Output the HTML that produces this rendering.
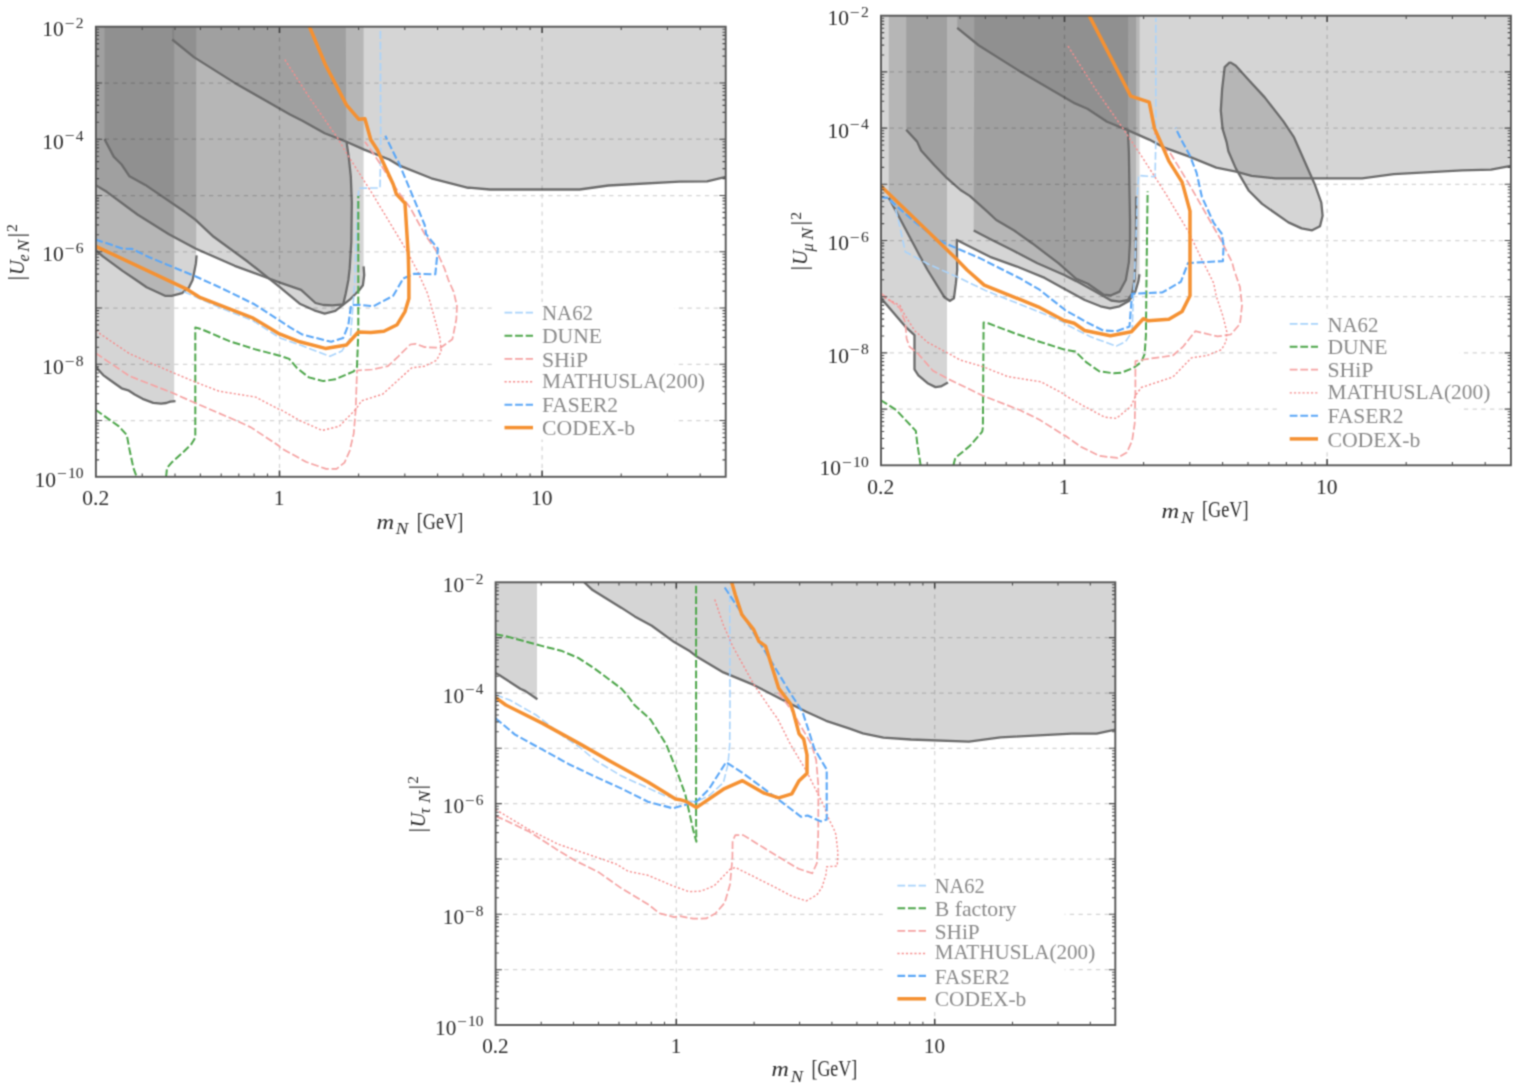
<!DOCTYPE html>
<html lang="en">
<head>
<meta charset="utf-8">
<title>HNL sensitivity</title>
<style>
html,body{margin:0;padding:0;background:#fff;}
body{width:1520px;height:1088px;overflow:hidden;}
svg{display:block;}
text{font-family:"Liberation Serif","DejaVu Serif",serif;fill:#2b2b2b;}
.it{font-style:italic;}
.lg{fill:#8a8a8a;}
</style>
</head>
<body>
<svg width="1520" height="1088" viewBox="0 0 1520 1088">
<defs><filter id="soft" x="0" y="0" width="1520" height="1088" filterUnits="userSpaceOnUse" color-interpolation-filters="sRGB"><feConvolveMatrix order="3" kernelMatrix="0.0441 0.1218 0.0441 0.1218 0.3364 0.1218 0.0441 0.1218 0.0441" edgeMode="duplicate" preserveAlpha="true"/></filter></defs>
<g filter="url(#soft)">
<rect x="0" y="0" width="1520" height="1088" fill="#ffffff"/>
<clipPath id="clip1"><rect x="95.9" y="26.7" width="629.8" height="450.1"/></clipPath>
<rect x="95.9" y="26.7" width="629.8" height="450.1" fill="#fff"/>
<g clip-path="url(#clip1)">
<path d="M96.0,26.7 L95.5,365.3 L97.9,369.2 L103.2,375.1 L112.4,381.7 L121.6,388.3 L128.2,390.3 L134.7,394.5 L142.6,398.8 L153.2,402.8 L161.1,403.7 L166.3,403.0 L170.3,401.6 L174.2,401.1 L174.2,26.7Z" fill="rgba(105,105,105,0.28)" stroke="none"/>
<path d="M96.0,26.7 L95.3,250.0 L103.2,256.6 L122.9,271.1 L136.1,280.0 L146.6,287.2 L165.0,295.8 L171.6,295.9 L182.1,293.2 L188.7,287.9 L192.6,280.0 L193.9,273.7 L195.9,263.2 L196.6,255.3 L196.2,255.3 L196.2,26.7Z" fill="rgba(105,105,105,0.28)" stroke="none"/>
<path d="M96.0,26.7 L95.3,184.9 L107.1,192.1 L137.4,214.5 L168.9,234.2 L195.9,248.7 L234.7,265.8 L265.0,277.0 L280.0,282.6 L301.1,289.9 L315.5,303.0 L323.4,305.0 L332.6,305.3 L343.2,304.3 L345.8,293.2 L348.4,280.0 L349.7,268.4 L351.3,242.1 L351.8,202.6 L350.8,176.3 L348.7,156.6 L346.4,141.1 L345.8,26.7Z" fill="rgba(105,105,105,0.28)" stroke="none"/>
<path d="M104.5,26.7 L104.5,139.1 L111.1,151.6 L113.7,156.6 L121.6,164.5 L129.5,176.3 L145.3,184.9 L184.7,211.8 L195.3,219.7 L213.7,236.8 L247.9,261.8 L279.5,286.8 L299.7,303.7 L314.2,310.3 L324.7,313.6 L335.3,310.9 L349.7,299.7 L358.9,290.5 L362.9,285.3 L364.2,275.0 L363.6,266.4 L363.6,26.7Z" fill="rgba(105,105,105,0.28)" stroke="none"/>
<path d="M172.2,26.7 L172.2,39.5 L193.9,57.1 L234.7,82.9 L290.0,114.5 L302.4,120.7 L324.7,133.2 L346.4,141.7 L364.2,149.6 L389.2,159.5 L398.4,165.1 L431.3,178.3 L468.2,187.9 L468.9,187.6 L490.0,189.5 L579.5,189.5 L608.4,185.5 L679.5,181.6 L707.1,181.3 L725.8,176.8 L725.7,26.7Z" fill="rgba(105,105,105,0.28)" stroke="none"/>
<path d="M95.5,365.3 L97.9,369.2 L103.2,375.1 L112.4,381.7 L121.6,388.3 L128.2,390.3 L134.7,394.5 L142.6,398.8 L153.2,402.8 L161.1,403.7 L166.3,403.0 L170.3,401.6 L175.5,401.1" fill="none" stroke="#6b6b6b" stroke-width="2.3" stroke-linejoin="round" stroke-linecap="butt"/>
<path d="M95.3,250.0 L103.2,256.6 L122.9,271.1 L136.1,280.0 L146.6,287.2 L165.0,295.8 L171.6,295.9 L182.1,293.2 L188.7,287.9 L192.6,280.0 L193.9,273.7 L195.9,263.2 L196.6,255.3" fill="none" stroke="#6b6b6b" stroke-width="2.3" stroke-linejoin="round" stroke-linecap="butt"/>
<path d="M95.3,184.9 L107.1,192.1 L137.4,214.5 L168.9,234.2 L195.9,248.7 L234.7,265.8 L265.0,277.0 L280.0,282.6 L301.1,289.9 L315.5,303.0 L323.4,305.0 L332.6,305.3 L343.2,304.3 L345.8,293.2 L348.4,280.0 L349.7,268.4 L351.3,242.1 L351.8,202.6 L350.8,176.3 L348.7,156.6 L346.4,141.1" fill="none" stroke="#6b6b6b" stroke-width="2.3" stroke-linejoin="round" stroke-linecap="butt"/>
<path d="M104.5,139.1 L111.1,151.6 L113.7,156.6 L121.6,164.5 L129.5,176.3 L145.3,184.9 L184.7,211.8 L195.3,219.7 L213.7,236.8 L247.9,261.8 L279.5,286.8 L299.7,303.7 L314.2,310.3 L324.7,313.6 L335.3,310.9 L349.7,299.7 L358.9,290.5 L362.9,285.3 L364.2,275.0 L363.6,266.4" fill="none" stroke="#6b6b6b" stroke-width="2.3" stroke-linejoin="round" stroke-linecap="butt"/>
<path d="M172.2,39.5 L193.9,57.1 L234.7,82.9 L290.0,114.5 L302.4,120.7 L324.7,133.2 L346.4,141.7 L364.2,149.6 L389.2,159.5 L398.4,165.1 L431.3,178.3 L468.2,187.9 L468.9,187.6 L490.0,189.5 L579.5,189.5 L608.4,185.5 L679.5,181.6 L707.1,181.3 L725.8,176.8" fill="none" stroke="#6b6b6b" stroke-width="2.3" stroke-linejoin="round" stroke-linecap="butt"/>
<path d="M95.9,420.5 H725.7 M95.9,364.3 H725.7 M95.9,308.0 H725.7 M95.9,251.8 H725.7 M95.9,195.5 H725.7 M95.9,139.2 H725.7 M95.9,83.0 H725.7 M279.5,476.8 V26.7 M542.1,476.8 V26.7" fill="none" stroke="#000" stroke-opacity="0.17" stroke-width="1.25" stroke-dasharray="4.3,4.4"/>
<path d="M174.2,287.9 L187.4,293.2 L221.6,308.3 L253.2,320.8 L280.0,337.9 L302.4,345.8 L330.0,356.3 L341.8,351.1 L350.4,337.9 L352.4,312.9 L355.0,280.0 L357.6,202.6 L358.9,188.2 L380.0,187.9 L380.7,150.0 L380.4,27.9" fill="none" stroke="#a9d3fb" stroke-width="1.6" stroke-linejoin="round" stroke-linecap="butt" stroke-dasharray="7.8,2.8"/>
<path d="M95.5,409.7 L109.7,419.9 L118.9,426.4 L126.8,435.0 L129.5,449.5 L133.4,467.9 L136.7,477.1" fill="none" stroke="#4ea64b" stroke-width="2.0" stroke-linejoin="round" stroke-linecap="butt" stroke-dasharray="7.8,2.8"/>
<path d="M166.1,477.1 L167.0,467.9 L171.6,462.6 L184.7,450.8 L191.3,444.2 L195.3,437.6 L195.3,327.4 L201.8,329.3 L229.5,341.2 L254.5,349.1 L279.5,355.7 L280.0,355.7 L289.2,358.9 L297.1,368.2 L308.9,377.4 L323.4,381.1 L335.3,379.3 L353.7,371.4 L357.0,366.8 L358.3,332.6 L358.3,196.1" fill="none" stroke="#4ea64b" stroke-width="2.0" stroke-linejoin="round" stroke-linecap="butt" stroke-dasharray="7.8,2.8"/>
<path d="M95.5,353.0 L129.5,376.1 L171.6,392.5 L195.3,403.0 L234.7,420.0 L250.5,427.1 L279.5,446.2 L280.0,447.5 L306.3,462.0 L326.1,468.9 L336.6,468.9 L344.5,462.6 L349.7,450.8 L353.7,433.7 L355.7,410.0 L357.0,370.5 L372.1,369.5 L387.9,366.2 L398.4,356.3 L410.3,344.5 L415.5,343.8 L424.7,347.1 L440.5,347.8 L452.4,339.2 L456.3,319.5 L457.0,306.3 L453.7,291.8 L448.4,280.0 L444.5,268.4 L436.6,251.3 L424.7,234.2 L410.3,207.9 L398.4,192.1 L374.7,155.5 L364.9,141.7" fill="none" stroke="#f5a3a3" stroke-width="1.7" stroke-linejoin="round" stroke-linecap="butt" stroke-dasharray="7.8,2.8"/>
<path d="M95.5,330.7 L129.5,353.7 L171.6,372.1 L195.3,382.0 L218.9,391.2 L255.8,397.1 L279.5,409.6 L280.0,409.3 L299.7,420.5 L322.1,430.4 L339.2,426.4 L356.3,408.7 L361.6,400.8 L382.6,394.2 L411.6,367.9 L424.7,366.2 L436.6,360.3 L441.2,351.1 L439.9,337.9 L431.3,306.3 L427.4,293.2 L421.4,280.0 L418.2,272.4 L406.3,250.0 L372.1,193.4 L344.5,150.0 L337.9,138.4 L310.3,98.9 L283.9,58.2" fill="none" stroke="#f58e8e" stroke-width="1.4" stroke-linejoin="round" stroke-linecap="butt" stroke-dasharray="2.2,2.05"/>
<path d="M95.3,239.5 L122.9,248.7 L132.1,248.9 L149.2,257.2 L195.3,276.3 L221.6,288.2 L254.5,304.3 L290.0,327.4 L302.4,334.6 L331.3,341.8 L343.2,337.9 L348.4,324.7 L351.1,305.0 L358.9,304.7 L373.4,306.3 L393.2,295.8 L402.4,280.0 L402.4,278.9 L414.2,273.7 L435.3,274.3 L437.9,248.7 L426.1,234.2 L424.7,225.0 L411.6,193.4 L398.4,161.8 L397.1,160.0 L385.3,135.8" fill="none" stroke="#5ba7f7" stroke-width="2.1" stroke-linejoin="round" stroke-linecap="butt" stroke-dasharray="7.8,2.8"/>
<path d="M95.3,246.1 L186.1,288.8 L199.2,297.1 L253.2,318.2 L279.5,333.9 L299.7,341.8 L325.4,348.4 L346.4,345.1 L358.3,332.0 L370.8,332.4 L383.9,331.3 L397.1,324.7 L405.0,311.6 L408.9,298.4 L408.9,280.0 L408.3,255.3 L405.0,203.3 L396.4,194.1 L393.2,184.2 L377.4,150.0 L370.8,139.7 L364.9,118.7 L358.9,119.3 L346.4,104.9 L325.4,64.7 L308.3,23.9" fill="none" stroke="#f59132" stroke-width="3.5" stroke-linejoin="round" stroke-linecap="butt"/>
</g>
<rect x="493.5" y="302.0" width="181.0" height="137.5" fill="#fff"/>
<path d="M504.5,312.6 H533.0" stroke="#a9d3fb" stroke-width="1.6" fill="none" stroke-dasharray="7.8,2.8"/>
<text class="lg" font-size="21.8" x="542.0" y="320.2" textLength="51.0" lengthAdjust="spacingAndGlyphs">NA62</text>
<path d="M504.5,335.8 H533.0" stroke="#4ea64b" stroke-width="2.0" fill="none" stroke-dasharray="7.8,2.8"/>
<text class="lg" font-size="21.8" x="542.0" y="343.4" textLength="60.0" lengthAdjust="spacingAndGlyphs">DUNE</text>
<path d="M504.5,358.9 H533.0" stroke="#f5a3a3" stroke-width="1.7" fill="none" stroke-dasharray="7.8,2.8"/>
<text class="lg" font-size="21.8" x="542.0" y="366.5" textLength="46.0" lengthAdjust="spacingAndGlyphs">SHiP</text>
<path d="M504.5,381.8 H533.0" stroke="#f58e8e" stroke-width="1.4" fill="none" stroke-dasharray="2.2,2.05"/>
<text class="lg" font-size="21.8" x="542.0" y="387.7" textLength="163.0" lengthAdjust="spacingAndGlyphs">MATHUSLA(200)</text>
<path d="M504.5,404.7 H533.0" stroke="#5ba7f7" stroke-width="2.1" fill="none" stroke-dasharray="7.8,2.8"/>
<text class="lg" font-size="21.8" x="542.0" y="412.3" textLength="76.0" lengthAdjust="spacingAndGlyphs">FASER2</text>
<path d="M504.5,427.6 H533.0" stroke="#f59132" stroke-width="3.5" fill="none"/>
<text class="lg" font-size="21.8" x="542.0" y="435.2" textLength="93.0" lengthAdjust="spacingAndGlyphs">CODEX-b</text>
<path d="M95.9,459.9 h3.2 M725.7,459.9 h-3.2 M95.9,450.0 h3.2 M725.7,450.0 h-3.2 M95.9,442.9 h3.2 M725.7,442.9 h-3.2 M95.9,437.5 h3.2 M725.7,437.5 h-3.2 M95.9,433.0 h3.2 M725.7,433.0 h-3.2 M95.9,429.3 h3.2 M725.7,429.3 h-3.2 M95.9,426.0 h3.2 M725.7,426.0 h-3.2 M95.9,423.1 h3.2 M725.7,423.1 h-3.2 M95.9,420.5 h6.3 M725.7,420.5 h-6.3 M95.9,403.6 h3.2 M725.7,403.6 h-3.2 M95.9,393.7 h3.2 M725.7,393.7 h-3.2 M95.9,386.7 h3.2 M725.7,386.7 h-3.2 M95.9,381.2 h3.2 M725.7,381.2 h-3.2 M95.9,376.8 h3.2 M725.7,376.8 h-3.2 M95.9,373.0 h3.2 M725.7,373.0 h-3.2 M95.9,369.7 h3.2 M725.7,369.7 h-3.2 M95.9,366.8 h3.2 M725.7,366.8 h-3.2 M95.9,364.3 h6.3 M725.7,364.3 h-6.3 M95.9,347.3 h3.2 M725.7,347.3 h-3.2 M95.9,337.4 h3.2 M725.7,337.4 h-3.2 M95.9,330.4 h3.2 M725.7,330.4 h-3.2 M95.9,324.9 h3.2 M725.7,324.9 h-3.2 M95.9,320.5 h3.2 M725.7,320.5 h-3.2 M95.9,316.7 h3.2 M725.7,316.7 h-3.2 M95.9,313.5 h3.2 M725.7,313.5 h-3.2 M95.9,310.6 h3.2 M725.7,310.6 h-3.2 M95.9,308.0 h6.3 M725.7,308.0 h-6.3 M95.9,291.1 h3.2 M725.7,291.1 h-3.2 M95.9,281.2 h3.2 M725.7,281.2 h-3.2 M95.9,274.1 h3.2 M725.7,274.1 h-3.2 M95.9,268.7 h3.2 M725.7,268.7 h-3.2 M95.9,264.2 h3.2 M725.7,264.2 h-3.2 M95.9,260.5 h3.2 M725.7,260.5 h-3.2 M95.9,257.2 h3.2 M725.7,257.2 h-3.2 M95.9,254.3 h3.2 M725.7,254.3 h-3.2 M95.9,251.8 h6.3 M725.7,251.8 h-6.3 M95.9,234.8 h3.2 M725.7,234.8 h-3.2 M95.9,224.9 h3.2 M725.7,224.9 h-3.2 M95.9,217.9 h3.2 M725.7,217.9 h-3.2 M95.9,212.4 h3.2 M725.7,212.4 h-3.2 M95.9,208.0 h3.2 M725.7,208.0 h-3.2 M95.9,204.2 h3.2 M725.7,204.2 h-3.2 M95.9,200.9 h3.2 M725.7,200.9 h-3.2 M95.9,198.1 h3.2 M725.7,198.1 h-3.2 M95.9,195.5 h6.3 M725.7,195.5 h-6.3 M95.9,178.6 h3.2 M725.7,178.6 h-3.2 M95.9,168.6 h3.2 M725.7,168.6 h-3.2 M95.9,161.6 h3.2 M725.7,161.6 h-3.2 M95.9,156.2 h3.2 M725.7,156.2 h-3.2 M95.9,151.7 h3.2 M725.7,151.7 h-3.2 M95.9,147.9 h3.2 M725.7,147.9 h-3.2 M95.9,144.7 h3.2 M725.7,144.7 h-3.2 M95.9,141.8 h3.2 M725.7,141.8 h-3.2 M95.9,139.2 h6.3 M725.7,139.2 h-6.3 M95.9,122.3 h3.2 M725.7,122.3 h-3.2 M95.9,112.4 h3.2 M725.7,112.4 h-3.2 M95.9,105.4 h3.2 M725.7,105.4 h-3.2 M95.9,99.9 h3.2 M725.7,99.9 h-3.2 M95.9,95.4 h3.2 M725.7,95.4 h-3.2 M95.9,91.7 h3.2 M725.7,91.7 h-3.2 M95.9,88.4 h3.2 M725.7,88.4 h-3.2 M95.9,85.5 h3.2 M725.7,85.5 h-3.2 M95.9,83.0 h6.3 M725.7,83.0 h-6.3 M95.9,66.0 h3.2 M725.7,66.0 h-3.2 M95.9,56.1 h3.2 M725.7,56.1 h-3.2 M95.9,49.1 h3.2 M725.7,49.1 h-3.2 M95.9,43.6 h3.2 M725.7,43.6 h-3.2 M95.9,39.2 h3.2 M725.7,39.2 h-3.2 M95.9,35.4 h3.2 M725.7,35.4 h-3.2 M95.9,32.2 h3.2 M725.7,32.2 h-3.2 M95.9,29.3 h3.2 M725.7,29.3 h-3.2" fill="none" stroke="#4a4a4a" stroke-width="1.1"/>
<path d="M279.5,476.8 v-6.3 M279.5,26.7 v6.3 M542.1,476.8 v-6.3 M542.1,26.7 v6.3" fill="none" stroke="#3a3a3a" stroke-width="1.5"/>
<path d="M142.2,476.8 v-3.2 M142.2,26.7 v3.2 M175.0,476.8 v-3.2 M175.0,26.7 v3.2 M200.4,476.8 v-3.2 M200.4,26.7 v3.2 M221.2,476.8 v-3.2 M221.2,26.7 v3.2 M238.8,476.8 v-3.2 M238.8,26.7 v3.2 M254.1,476.8 v-3.2 M254.1,26.7 v3.2 M267.5,476.8 v-3.2 M267.5,26.7 v3.2 M358.6,476.8 v-3.2 M358.6,26.7 v3.2 M404.8,476.8 v-3.2 M404.8,26.7 v3.2 M437.6,476.8 v-3.2 M437.6,26.7 v3.2 M463.0,476.8 v-3.2 M463.0,26.7 v3.2 M483.8,476.8 v-3.2 M483.8,26.7 v3.2 M501.4,476.8 v-3.2 M501.4,26.7 v3.2 M516.7,476.8 v-3.2 M516.7,26.7 v3.2 M530.1,476.8 v-3.2 M530.1,26.7 v3.2 M621.2,476.8 v-3.2 M621.2,26.7 v3.2 M667.4,476.8 v-3.2 M667.4,26.7 v3.2 M700.2,476.8 v-3.2 M700.2,26.7 v3.2" fill="none" stroke="#4a4a4a" stroke-width="1.1"/>
<rect x="95.9" y="26.7" width="629.8" height="450.1" fill="none" stroke="#565656" stroke-width="1.9"/>
<text text-anchor="end" font-size="21.5" x="63.8" y="36.4">10</text>
<text font-size="15.6" x="64.7" y="28.9" textLength="9.9" lengthAdjust="spacingAndGlyphs">−</text>
<text text-anchor="end" font-size="15.6" x="83.6" y="28.0">2</text>
<text text-anchor="end" font-size="21.5" x="63.8" y="148.9">10</text>
<text font-size="15.6" x="64.7" y="141.4" textLength="9.9" lengthAdjust="spacingAndGlyphs">−</text>
<text text-anchor="end" font-size="15.6" x="83.6" y="140.5">4</text>
<text text-anchor="end" font-size="21.5" x="63.8" y="261.4">10</text>
<text font-size="15.6" x="64.7" y="253.9" textLength="9.9" lengthAdjust="spacingAndGlyphs">−</text>
<text text-anchor="end" font-size="15.6" x="83.6" y="253.1">6</text>
<text text-anchor="end" font-size="21.5" x="63.8" y="374.0">10</text>
<text font-size="15.6" x="64.7" y="366.5" textLength="9.9" lengthAdjust="spacingAndGlyphs">−</text>
<text text-anchor="end" font-size="15.6" x="83.6" y="365.6">8</text>
<text text-anchor="end" font-size="21.5" x="56.0" y="486.5">10</text>
<text font-size="15.6" x="56.9" y="479.0" textLength="9.9" lengthAdjust="spacingAndGlyphs">−</text>
<text text-anchor="end" font-size="15.6" x="83.6" y="478.1">10</text>
<text text-anchor="middle" font-size="21.5" x="95.7" y="505.4">0.2</text>
<text text-anchor="middle" font-size="21.5" x="279.2" y="505.4">1</text>
<text text-anchor="middle" font-size="21.5" x="541.8" y="505.4">10</text>
<text class="it" font-size="22.0" x="376.4" y="529.0" textLength="17.6" lengthAdjust="spacingAndGlyphs">m</text>
<text class="it" font-size="16.0" x="395.8" y="534.4" textLength="12.4" lengthAdjust="spacingAndGlyphs">N</text>
<text font-size="23.5" x="416.8" y="528.7" textLength="46.6" lengthAdjust="spacingAndGlyphs">[GeV]</text>
<g transform="translate(24.8,278.3) rotate(-90)">
<text font-size="23.5" x="-2.3" y="-1.2">|</text>
<text class="it" font-size="22.0" x="3.2" y="-1.2" textLength="14.8" lengthAdjust="spacingAndGlyphs">U</text>
<text class="it" font-size="16.0" x="16.8" y="4.6">e</text>
<text class="it" font-size="16.0" x="26.4" y="4.6" textLength="12.4" lengthAdjust="spacingAndGlyphs">N</text>
<text font-size="23.5" x="40.9" y="-1.2">|</text>
<text font-size="15.6" x="46.2" y="-7.8">2</text>
</g>
<clipPath id="clip2"><rect x="881.0" y="15.7" width="629.9" height="449.6"/></clipPath>
<rect x="881.0" y="15.7" width="629.9" height="449.6" fill="#fff"/>
<g clip-path="url(#clip2)">
<path d="M881.0,15.7 L880.5,297.6 L905.3,326.6 L914.5,335.1 L914.5,369.3 L918.4,375.3 L927.6,383.2 L935.5,387.1 L940.8,386.4 L947.0,382.5 L947.0,15.7Z" fill="rgba(105,105,105,0.28)" stroke="none"/>
<path d="M888.8,15.7 L888.8,197.9 L897.4,213.7 L919.7,255.8 L927.6,270.0 L944.7,297.6 L950.0,300.9 L953.9,298.3 L955.9,283.2 L957.2,270.0 L956.8,240.0 L975.0,249.2 L990.0,256.8 L1016.3,266.3 L1044.7,277.9 L1063.7,288.4 L1084.7,300.0 L1100.5,306.3 L1110.0,308.4 L1119.5,306.3 L1128.9,301.1 L1135.3,291.6 L1138.4,281.1 L1139.5,274.2 L1139.6,15.7Z" fill="rgba(105,105,105,0.28)" stroke="none"/>
<path d="M906.2,15.7 L906.2,129.7 L917.1,141.6 L921.1,150.5 L934.2,165.0 L947.0,178.2 L960.5,190.0 L969.7,195.9 L986.8,211.1 L996.3,220.0 L1014.2,230.5 L1032.1,243.2 L1058.4,263.2 L1076.3,278.9 L1087.9,283.7 L1103.7,294.7 L1111.1,295.3 L1119.5,291.6 L1125.8,280.0 L1128.9,262.1 L1130.0,241.1 L1130.0,220.0 L1129.5,192.6 L1128.9,153.2 L1128.4,141.6 L1127.9,131.1 L1128.2,15.7Z" fill="rgba(105,105,105,0.28)" stroke="none"/>
<path d="M974.3,15.7 L973.7,230.5 L990.0,238.9 L1011.1,249.5 L1037.4,263.2 L1063.7,274.7 L1076.3,281.1 L1095.3,291.6 L1111.1,300.5 L1119.5,301.6 L1127.9,300.0 L1132.1,293.7 L1134.7,278.9 L1135.8,251.6 L1136.1,220.0 L1136.1,196.6 L1136.1,15.7Z" fill="rgba(105,105,105,0.28)" stroke="none"/>
<path d="M957.2,15.7 L957.2,27.8 L978.9,45.5 L1019.7,71.2 L1075.0,103.4 L1087.4,108.7 L1107.1,121.8 L1128.2,130.4 L1149.2,139.6 L1165.0,147.9 L1188.7,156.4 L1216.3,167.6 L1236.1,171.6 L1251.6,175.8 L1275.3,178.4 L1362.1,178.4 L1393.7,174.2 L1462.1,170.3 L1491.1,169.7 L1510.8,165.8 L1510.9,15.7Z" fill="rgba(105,105,105,0.28)" stroke="none"/>
<path d="M1230.0,62.1 L1224.7,67.1 L1222.1,89.5 L1220.8,110.5 L1222.6,128.9 L1226.6,142.1 L1228.4,151.3 L1235.8,168.4 L1248.9,190.8 L1262.1,203.9 L1288.4,222.4 L1301.6,228.4 L1312.1,230.3 L1320.0,226.3 L1322.6,215.8 L1321.3,202.6 L1314.7,184.2 L1304.2,160.5 L1293.7,136.8 L1283.2,121.1 L1264.7,97.4 L1248.9,80.3 L1235.8,65.8 L1230.0,62.1Z" fill="rgba(105,105,105,0.28)" stroke="none"/>
<path d="M880.5,297.6 L905.3,326.6 L914.5,335.1 L914.5,369.3 L918.4,375.3 L927.6,383.2 L935.5,387.1 L940.8,386.4 L948.0,382.5" fill="none" stroke="#6b6b6b" stroke-width="2.3" stroke-linejoin="round" stroke-linecap="butt"/>
<path d="M888.8,197.9 L897.4,213.7 L919.7,255.8 L927.6,270.0 L944.7,297.6 L950.0,300.9 L953.9,298.3 L955.9,283.2 L957.2,270.0 L956.8,240.0 L975.0,249.2 L990.0,256.8 L1016.3,266.3 L1044.7,277.9 L1063.7,288.4 L1084.7,300.0 L1100.5,306.3 L1110.0,308.4 L1119.5,306.3 L1128.9,301.1 L1135.3,291.6 L1138.4,281.1 L1139.5,274.2" fill="none" stroke="#6b6b6b" stroke-width="2.3" stroke-linejoin="round" stroke-linecap="butt"/>
<path d="M906.2,129.7 L917.1,141.6 L921.1,150.5 L934.2,165.0 L947.0,178.2 L960.5,190.0 L969.7,195.9 L986.8,211.1 L996.3,220.0 L1014.2,230.5 L1032.1,243.2 L1058.4,263.2 L1076.3,278.9 L1087.9,283.7 L1103.7,294.7 L1111.1,295.3 L1119.5,291.6 L1125.8,280.0 L1128.9,262.1 L1130.0,241.1 L1130.0,220.0 L1129.5,192.6 L1128.9,153.2 L1128.4,141.6 L1127.9,131.1" fill="none" stroke="#6b6b6b" stroke-width="2.3" stroke-linejoin="round" stroke-linecap="butt"/>
<path d="M973.7,230.5 L990.0,238.9 L1011.1,249.5 L1037.4,263.2 L1063.7,274.7 L1076.3,281.1 L1095.3,291.6 L1111.1,300.5 L1119.5,301.6 L1127.9,300.0 L1132.1,293.7 L1134.7,278.9 L1135.8,251.6 L1136.1,220.0 L1136.1,196.6" fill="none" stroke="#6b6b6b" stroke-width="2.3" stroke-linejoin="round" stroke-linecap="butt"/>
<path d="M957.2,27.8 L978.9,45.5 L1019.7,71.2 L1075.0,103.4 L1087.4,108.7 L1107.1,121.8 L1128.2,130.4 L1149.2,139.6 L1165.0,147.9 L1188.7,156.4 L1216.3,167.6 L1236.1,171.6 L1251.6,175.8 L1275.3,178.4 L1362.1,178.4 L1393.7,174.2 L1462.1,170.3 L1491.1,169.7 L1510.8,165.8" fill="none" stroke="#6b6b6b" stroke-width="2.3" stroke-linejoin="round" stroke-linecap="butt"/>
<path d="M1230.0,62.1 L1224.7,67.1 L1222.1,89.5 L1220.8,110.5 L1222.6,128.9 L1226.6,142.1 L1228.4,151.3 L1235.8,168.4 L1248.9,190.8 L1262.1,203.9 L1288.4,222.4 L1301.6,228.4 L1312.1,230.3 L1320.0,226.3 L1322.6,215.8 L1321.3,202.6 L1314.7,184.2 L1304.2,160.5 L1293.7,136.8 L1283.2,121.1 L1264.7,97.4 L1248.9,80.3 L1235.8,65.8 L1230.0,62.1" fill="none" stroke="#6b6b6b" stroke-width="2.3" stroke-linejoin="round" stroke-linecap="butt"/>
<path d="M881.0,409.1 H1510.9 M881.0,352.9 H1510.9 M881.0,296.7 H1510.9 M881.0,240.5 H1510.9 M881.0,184.3 H1510.9 M881.0,128.1 H1510.9 M881.0,71.9 H1510.9 M1064.5,465.3 V15.7 M1327.1,465.3 V15.7" fill="none" stroke="#000" stroke-opacity="0.17" stroke-width="1.25" stroke-dasharray="4.3,4.4"/>
<path d="M880.3,196.6 L888.2,198.6 L894.7,205.8 L898.7,221.6 L905.3,251.8 L927.6,263.7 L953.9,275.5 L956.6,276.6 L986.8,291.1 L1019.7,304.2 L1046.1,314.7 L1064.5,322.6 L1065.0,323.9 L1091.3,337.1 L1116.3,346.1 L1125.5,341.7 L1132.1,331.8 L1133.4,296.3 L1134.7,270.0 L1136.7,218.9 L1137.4,192.6 L1138.7,175.5 L1155.1,176.8 L1155.8,140.0 L1155.8,17.9" fill="none" stroke="#a9d3fb" stroke-width="1.6" stroke-linejoin="round" stroke-linecap="butt" stroke-dasharray="7.8,2.8"/>
<path d="M880.5,400.0 L896.1,409.9 L906.6,421.1 L915.8,430.9 L917.1,442.1 L919.1,455.3 L920.8,466.4" fill="none" stroke="#4ea64b" stroke-width="2.0" stroke-linejoin="round" stroke-linecap="butt" stroke-dasharray="7.8,2.8"/>
<path d="M953.3,465.8 L955.3,457.9 L969.7,446.1 L978.9,435.5 L982.2,431.6 L982.9,427.6 L983.6,322.6 L988.2,323.3 L1014.5,333.2 L1039.5,341.7 L1064.5,349.6 L1065.0,349.6 L1075.5,351.6 L1086.1,362.1 L1099.2,371.3 L1113.7,373.3 L1121.6,372.6 L1133.4,368.0 L1141.3,362.1 L1144.6,354.2 L1145.9,335.8 L1146.6,270.0 L1147.6,191.3" fill="none" stroke="#4ea64b" stroke-width="2.0" stroke-linejoin="round" stroke-linecap="butt" stroke-dasharray="7.8,2.8"/>
<path d="M880.5,293.0 L900.0,308.2 L905.3,322.6 L906.6,338.4 L909.2,346.3 L918.4,354.2 L932.9,370.7 L947.4,378.6 L982.9,395.7 L1019.7,410.0 L1039.5,419.7 L1064.5,435.5 L1065.0,435.5 L1080.8,446.7 L1099.2,455.9 L1117.6,457.9 L1126.8,452.6 L1132.1,440.8 L1134.7,423.7 L1135.4,389.5 L1135.4,361.2 L1143.9,359.5 L1172.9,355.5 L1183.4,346.3 L1195.3,331.2 L1217.6,336.4 L1230.8,334.5 L1240.0,323.9 L1242.0,305.5 L1240.0,287.1 L1234.1,270.0 L1232.1,262.4 L1221.6,241.3 L1209.7,220.3 L1188.7,183.4 L1170.3,153.2 L1162.4,146.8 L1154.5,133.0" fill="none" stroke="#f5a3a3" stroke-width="1.7" stroke-linejoin="round" stroke-linecap="butt" stroke-dasharray="7.8,2.8"/>
<path d="M880.5,295.7 L900.0,305.5 L903.9,313.4 L914.5,330.5 L927.6,342.4 L947.4,352.9 L960.5,360.1 L982.9,366.7 L1007.9,376.6 L1040.8,381.8 L1064.5,394.3 L1065.0,395.4 L1084.7,406.6 L1104.5,417.1 L1116.3,418.4 L1130.8,406.6 L1136.1,394.7 L1141.3,387.5 L1172.9,377.0 L1191.3,357.9 L1207.1,355.5 L1221.6,349.6 L1226.2,341.1 L1226.8,331.8 L1222.9,316.1 L1216.3,296.3 L1213.7,283.2 L1207.1,270.0 L1203.2,262.4 L1188.7,232.1 L1165.0,192.6 L1138.7,151.8 L1137.4,150.0 L1122.9,128.4 L1095.3,88.9 L1067.6,45.5" fill="none" stroke="#f58e8e" stroke-width="1.4" stroke-linejoin="round" stroke-linecap="butt" stroke-dasharray="2.2,2.05"/>
<path d="M880.3,197.2 L888.2,197.9 L896.1,205.8 L914.5,221.6 L934.2,237.4 L943.4,242.6 L980.3,258.4 L1019.7,278.2 L1039.5,289.7 L1064.5,309.5 L1065.0,310.1 L1087.4,322.6 L1103.2,330.5 L1116.3,331.2 L1129.5,326.6 L1130.8,309.5 L1132.1,293.7 L1162.4,292.4 L1180.8,281.8 L1185.4,270.0 L1188.0,263.0 L1222.9,261.1 L1223.6,245.3 L1221.6,233.4 L1213.7,222.9 L1201.8,196.6 L1196.6,172.9 L1190.0,155.8 L1181.4,140.0 L1175.5,127.8" fill="none" stroke="#5ba7f7" stroke-width="2.1" stroke-linejoin="round" stroke-linecap="butt" stroke-dasharray="7.8,2.8"/>
<path d="M880.3,185.4 L956.6,259.1 L967.1,270.0 L984.2,285.1 L1038.2,306.8 L1064.5,320.7 L1065.0,320.7 L1074.2,323.3 L1084.7,330.5 L1110.4,335.8 L1131.4,331.8 L1143.3,318.7 L1147.9,320.7 L1168.9,319.3 L1182.1,311.4 L1190.0,295.7 L1190.0,270.0 L1190.0,211.1 L1182.1,182.1 L1168.9,161.1 L1159.7,140.0 L1154.5,128.4 L1149.2,102.1 L1130.8,96.2 L1088.0,13.3" fill="none" stroke="#f59132" stroke-width="3.5" stroke-linejoin="round" stroke-linecap="butt"/>
</g>
<rect x="1278.7" y="313.3" width="181.0" height="137.5" fill="#fff"/>
<path d="M1289.7,323.9 H1318.0" stroke="#a9d3fb" stroke-width="1.6" fill="none" stroke-dasharray="7.8,2.8"/>
<text class="lg" font-size="21.8" x="1327.4" y="331.5" textLength="51.0" lengthAdjust="spacingAndGlyphs">NA62</text>
<path d="M1289.7,346.8 H1318.0" stroke="#4ea64b" stroke-width="2.0" fill="none" stroke-dasharray="7.8,2.8"/>
<text class="lg" font-size="21.8" x="1327.4" y="354.4" textLength="60.0" lengthAdjust="spacingAndGlyphs">DUNE</text>
<path d="M1289.7,369.7 H1318.0" stroke="#f5a3a3" stroke-width="1.7" fill="none" stroke-dasharray="7.8,2.8"/>
<text class="lg" font-size="21.8" x="1327.4" y="377.3" textLength="46.0" lengthAdjust="spacingAndGlyphs">SHiP</text>
<path d="M1289.7,392.9 H1318.0" stroke="#f58e8e" stroke-width="1.4" fill="none" stroke-dasharray="2.2,2.05"/>
<text class="lg" font-size="21.8" x="1327.4" y="398.8" textLength="163.0" lengthAdjust="spacingAndGlyphs">MATHUSLA(200)</text>
<path d="M1289.7,415.8 H1318.0" stroke="#5ba7f7" stroke-width="2.1" fill="none" stroke-dasharray="7.8,2.8"/>
<text class="lg" font-size="21.8" x="1327.4" y="423.4" textLength="76.0" lengthAdjust="spacingAndGlyphs">FASER2</text>
<path d="M1289.7,438.9 H1318.0" stroke="#f59132" stroke-width="3.5" fill="none"/>
<text class="lg" font-size="21.8" x="1327.4" y="446.5" textLength="93.0" lengthAdjust="spacingAndGlyphs">CODEX-b</text>
<path d="M881.0,448.4 h3.2 M1510.9,448.4 h-3.2 M881.0,438.5 h3.2 M1510.9,438.5 h-3.2 M881.0,431.5 h3.2 M1510.9,431.5 h-3.2 M881.0,426.0 h3.2 M1510.9,426.0 h-3.2 M881.0,421.6 h3.2 M1510.9,421.6 h-3.2 M881.0,417.8 h3.2 M1510.9,417.8 h-3.2 M881.0,414.5 h3.2 M1510.9,414.5 h-3.2 M881.0,411.7 h3.2 M1510.9,411.7 h-3.2 M881.0,409.1 h6.3 M1510.9,409.1 h-6.3 M881.0,392.2 h3.2 M1510.9,392.2 h-3.2 M881.0,382.3 h3.2 M1510.9,382.3 h-3.2 M881.0,375.3 h3.2 M1510.9,375.3 h-3.2 M881.0,369.8 h3.2 M1510.9,369.8 h-3.2 M881.0,365.4 h3.2 M1510.9,365.4 h-3.2 M881.0,361.6 h3.2 M1510.9,361.6 h-3.2 M881.0,358.3 h3.2 M1510.9,358.3 h-3.2 M881.0,355.5 h3.2 M1510.9,355.5 h-3.2 M881.0,352.9 h6.3 M1510.9,352.9 h-6.3 M881.0,336.0 h3.2 M1510.9,336.0 h-3.2 M881.0,326.1 h3.2 M1510.9,326.1 h-3.2 M881.0,319.1 h3.2 M1510.9,319.1 h-3.2 M881.0,313.6 h3.2 M1510.9,313.6 h-3.2 M881.0,309.2 h3.2 M1510.9,309.2 h-3.2 M881.0,305.4 h3.2 M1510.9,305.4 h-3.2 M881.0,302.1 h3.2 M1510.9,302.1 h-3.2 M881.0,299.3 h3.2 M1510.9,299.3 h-3.2 M881.0,296.7 h6.3 M1510.9,296.7 h-6.3 M881.0,279.8 h3.2 M1510.9,279.8 h-3.2 M881.0,269.9 h3.2 M1510.9,269.9 h-3.2 M881.0,262.9 h3.2 M1510.9,262.9 h-3.2 M881.0,257.4 h3.2 M1510.9,257.4 h-3.2 M881.0,253.0 h3.2 M1510.9,253.0 h-3.2 M881.0,249.2 h3.2 M1510.9,249.2 h-3.2 M881.0,245.9 h3.2 M1510.9,245.9 h-3.2 M881.0,243.1 h3.2 M1510.9,243.1 h-3.2 M881.0,240.5 h6.3 M1510.9,240.5 h-6.3 M881.0,223.6 h3.2 M1510.9,223.6 h-3.2 M881.0,213.7 h3.2 M1510.9,213.7 h-3.2 M881.0,206.7 h3.2 M1510.9,206.7 h-3.2 M881.0,201.2 h3.2 M1510.9,201.2 h-3.2 M881.0,196.8 h3.2 M1510.9,196.8 h-3.2 M881.0,193.0 h3.2 M1510.9,193.0 h-3.2 M881.0,189.7 h3.2 M1510.9,189.7 h-3.2 M881.0,186.9 h3.2 M1510.9,186.9 h-3.2 M881.0,184.3 h6.3 M1510.9,184.3 h-6.3 M881.0,167.4 h3.2 M1510.9,167.4 h-3.2 M881.0,157.5 h3.2 M1510.9,157.5 h-3.2 M881.0,150.5 h3.2 M1510.9,150.5 h-3.2 M881.0,145.0 h3.2 M1510.9,145.0 h-3.2 M881.0,140.6 h3.2 M1510.9,140.6 h-3.2 M881.0,136.8 h3.2 M1510.9,136.8 h-3.2 M881.0,133.5 h3.2 M1510.9,133.5 h-3.2 M881.0,130.7 h3.2 M1510.9,130.7 h-3.2 M881.0,128.1 h6.3 M1510.9,128.1 h-6.3 M881.0,111.2 h3.2 M1510.9,111.2 h-3.2 M881.0,101.3 h3.2 M1510.9,101.3 h-3.2 M881.0,94.3 h3.2 M1510.9,94.3 h-3.2 M881.0,88.8 h3.2 M1510.9,88.8 h-3.2 M881.0,84.4 h3.2 M1510.9,84.4 h-3.2 M881.0,80.6 h3.2 M1510.9,80.6 h-3.2 M881.0,77.3 h3.2 M1510.9,77.3 h-3.2 M881.0,74.5 h3.2 M1510.9,74.5 h-3.2 M881.0,71.9 h6.3 M1510.9,71.9 h-6.3 M881.0,55.0 h3.2 M1510.9,55.0 h-3.2 M881.0,45.1 h3.2 M1510.9,45.1 h-3.2 M881.0,38.1 h3.2 M1510.9,38.1 h-3.2 M881.0,32.6 h3.2 M1510.9,32.6 h-3.2 M881.0,28.2 h3.2 M1510.9,28.2 h-3.2 M881.0,24.4 h3.2 M1510.9,24.4 h-3.2 M881.0,21.1 h3.2 M1510.9,21.1 h-3.2 M881.0,18.3 h3.2 M1510.9,18.3 h-3.2" fill="none" stroke="#4a4a4a" stroke-width="1.1"/>
<path d="M1064.5,465.3 v-6.3 M1064.5,15.7 v6.3 M1327.1,465.3 v-6.3 M1327.1,15.7 v6.3" fill="none" stroke="#3a3a3a" stroke-width="1.5"/>
<path d="M927.2,465.3 v-3.2 M927.2,15.7 v3.2 M960.0,465.3 v-3.2 M960.0,15.7 v3.2 M985.4,465.3 v-3.2 M985.4,15.7 v3.2 M1006.2,465.3 v-3.2 M1006.2,15.7 v3.2 M1023.8,465.3 v-3.2 M1023.8,15.7 v3.2 M1039.1,465.3 v-3.2 M1039.1,15.7 v3.2 M1052.5,465.3 v-3.2 M1052.5,15.7 v3.2 M1143.6,465.3 v-3.2 M1143.6,15.7 v3.2 M1189.8,465.3 v-3.2 M1189.8,15.7 v3.2 M1222.6,465.3 v-3.2 M1222.6,15.7 v3.2 M1248.0,465.3 v-3.2 M1248.0,15.7 v3.2 M1268.8,465.3 v-3.2 M1268.8,15.7 v3.2 M1286.4,465.3 v-3.2 M1286.4,15.7 v3.2 M1301.7,465.3 v-3.2 M1301.7,15.7 v3.2 M1315.1,465.3 v-3.2 M1315.1,15.7 v3.2 M1406.2,465.3 v-3.2 M1406.2,15.7 v3.2 M1452.4,465.3 v-3.2 M1452.4,15.7 v3.2 M1485.2,465.3 v-3.2 M1485.2,15.7 v3.2" fill="none" stroke="#4a4a4a" stroke-width="1.1"/>
<rect x="881.0" y="15.7" width="629.9" height="449.6" fill="none" stroke="#565656" stroke-width="1.9"/>
<text text-anchor="end" font-size="21.5" x="848.9" y="25.4">10</text>
<text font-size="15.6" x="849.8" y="17.9" textLength="9.9" lengthAdjust="spacingAndGlyphs">−</text>
<text text-anchor="end" font-size="15.6" x="868.7" y="17.0">2</text>
<text text-anchor="end" font-size="21.5" x="848.9" y="137.8">10</text>
<text font-size="15.6" x="849.8" y="130.3" textLength="9.9" lengthAdjust="spacingAndGlyphs">−</text>
<text text-anchor="end" font-size="15.6" x="868.7" y="129.4">4</text>
<text text-anchor="end" font-size="21.5" x="848.9" y="250.2">10</text>
<text font-size="15.6" x="849.8" y="242.7" textLength="9.9" lengthAdjust="spacingAndGlyphs">−</text>
<text text-anchor="end" font-size="15.6" x="868.7" y="241.8">6</text>
<text text-anchor="end" font-size="21.5" x="848.9" y="362.6">10</text>
<text font-size="15.6" x="849.8" y="355.1" textLength="9.9" lengthAdjust="spacingAndGlyphs">−</text>
<text text-anchor="end" font-size="15.6" x="868.7" y="354.2">8</text>
<text text-anchor="end" font-size="21.5" x="841.1" y="475.0">10</text>
<text font-size="15.6" x="842.0" y="467.5" textLength="9.9" lengthAdjust="spacingAndGlyphs">−</text>
<text text-anchor="end" font-size="15.6" x="868.7" y="466.6">10</text>
<text text-anchor="middle" font-size="21.5" x="880.7" y="493.9">0.2</text>
<text text-anchor="middle" font-size="21.5" x="1064.2" y="493.9">1</text>
<text text-anchor="middle" font-size="21.5" x="1326.8" y="493.9">10</text>
<text class="it" font-size="22.0" x="1161.5" y="517.5" textLength="17.6" lengthAdjust="spacingAndGlyphs">m</text>
<text class="it" font-size="16.0" x="1181.0" y="522.9" textLength="12.4" lengthAdjust="spacingAndGlyphs">N</text>
<text font-size="23.5" x="1202.0" y="517.2" textLength="46.6" lengthAdjust="spacingAndGlyphs">[GeV]</text>
<g transform="translate(808.5,268.3) rotate(-90)">
<text font-size="23.5" x="-2.3" y="-1.2">|</text>
<text class="it" font-size="22.0" x="3.2" y="-1.2" textLength="14.8" lengthAdjust="spacingAndGlyphs">U</text>
<text class="it" font-size="16.0" x="16.8" y="4.6">μ</text>
<text class="it" font-size="16.0" x="28.3" y="4.6" textLength="12.4" lengthAdjust="spacingAndGlyphs">N</text>
<text font-size="23.5" x="42.7" y="-1.2">|</text>
<text font-size="15.6" x="48.5" y="-7.8">2</text>
</g>
<clipPath id="clip3"><rect x="495.6" y="582.3" width="619.7" height="442.7"/></clipPath>
<rect x="495.6" y="582.3" width="619.7" height="442.7" fill="#fff"/>
<g clip-path="url(#clip3)">
<path d="M495.6,582.3 L495.5,673.0 L499.2,675.0 L520.3,688.8 L525.5,691.1 L537.0,698.8 L537.0,582.3Z" fill="rgba(105,105,105,0.28)" stroke="none"/>
<path d="M583.1,582.3 L584.1,582.2 L592.6,590.1 L621.6,607.9 L634.7,616.4 L651.8,625.7 L674.2,642.1 L690.0,651.3 L695.8,655.9 L723.4,672.4 L753.7,684.9 L781.3,699.3 L806.3,711.8 L826.1,720.8 L849.7,728.7 L862.9,733.3 L883.4,737.6 L911.1,739.5 L968.9,741.6 L1000.5,737.4 L1071.6,733.7 L1096.6,733.7 L1115.3,729.7 L1115.3,582.3Z" fill="rgba(105,105,105,0.28)" stroke="none"/>
<path d="M495.5,673.0 L499.2,675.0 L520.3,688.8 L525.5,691.1 L537.4,699.3" fill="none" stroke="#6b6b6b" stroke-width="2.3" stroke-linejoin="round" stroke-linecap="butt"/>
<path d="M584.1,582.2 L592.6,590.1 L621.6,607.9 L634.7,616.4 L651.8,625.7 L674.2,642.1 L690.0,651.3 L695.8,655.9 L723.4,672.4 L753.7,684.9 L781.3,699.3 L806.3,711.8 L826.1,720.8 L849.7,728.7 L862.9,733.3 L883.4,737.6 L911.1,739.5 L968.9,741.6 L1000.5,737.4 L1071.6,733.7 L1096.6,733.7 L1115.3,729.7" fill="none" stroke="#6b6b6b" stroke-width="2.3" stroke-linejoin="round" stroke-linecap="butt"/>
<path d="M495.6,969.7 H1115.3 M495.6,914.3 H1115.3 M495.6,859.0 H1115.3 M495.6,803.6 H1115.3 M495.6,748.3 H1115.3 M495.6,693.0 H1115.3 M495.6,637.6 H1115.3 M676.3,1025.0 V582.3 M934.7,1025.0 V582.3" fill="none" stroke="#000" stroke-opacity="0.17" stroke-width="1.25" stroke-dasharray="4.3,4.4"/>
<path d="M495.5,694.7 L509.7,700.0 L536.1,715.0 L545.3,722.1 L563.7,736.6 L579.5,747.1 L595.3,760.3 L621.6,776.1 L647.9,787.9 L665.0,795.8 L676.8,799.1 L680.0,800.4 L696.4,801.7 L708.9,795.8 L723.4,782.6 L728.0,764.2 L729.7,744.5 L730.0,705.0 L729.7,587.5" fill="none" stroke="#a9d3fb" stroke-width="1.6" stroke-linejoin="round" stroke-linecap="butt" stroke-dasharray="7.8,2.8"/>
<path d="M495.5,634.2 L505.8,636.2 L522.9,640.8 L542.6,646.1 L561.1,650.7 L578.2,657.9 L595.3,669.1 L621.6,688.8 L626.8,694.7 L634.7,705.3 L650.5,719.5 L666.3,744.5 L676.8,770.8 L685.3,794.5 L693.2,830.0 L696.4,841.8 L696.1,823.4 L696.1,582.2" fill="none" stroke="#4ea64b" stroke-width="2.0" stroke-linejoin="round" stroke-linecap="butt" stroke-dasharray="7.8,2.8"/>
<path d="M495.5,816.1 L503.2,819.3 L529.5,831.8 L555.8,848.9 L575.5,860.8 L599.2,872.6 L621.6,888.4 L647.9,904.2 L659.7,913.4 L674.2,917.1 L680.0,916.1 L693.2,918.7 L706.3,918.4 L715.5,913.4 L724.7,902.9 L730.0,884.5 L732.4,858.2 L732.6,841.1 L735.3,835.1 L743.2,835.1 L777.4,856.2 L798.4,868.7 L812.2,873.3 L816.8,863.4 L818.2,834.5 L818.4,795.0 L818.2,783.9 L816.2,760.3 L811.6,744.5 L798.4,722.1 L791.8,710.3 L777.4,691.4" fill="none" stroke="#f5a3a3" stroke-width="1.7" stroke-linejoin="round" stroke-linecap="butt" stroke-dasharray="7.8,2.8"/>
<path d="M495.5,809.5 L529.5,829.9 L558.4,844.3 L595.3,856.8 L616.3,864.1 L628.2,871.3 L647.9,875.3 L674.2,886.4 L680.0,888.4 L689.2,891.7 L701.1,891.1 L714.2,885.8 L730.0,869.3 L735.3,867.4 L772.1,885.8 L791.8,896.3 L806.3,900.9 L816.8,895.0 L822.1,887.1 L826.1,873.9 L826.7,866.7 L837.2,866.1 L837.9,852.9 L835.9,834.5 L833.9,829.2 L827.4,816.1 L824.7,807.6 L818.2,794.5 L806.3,770.8 L790.5,744.5 L777.4,718.2 L774.7,715.0 L753.7,684.2 L732.6,646.1 L723.4,625.0 L714.2,598.0" fill="none" stroke="#f58e8e" stroke-width="1.4" stroke-linejoin="round" stroke-linecap="butt" stroke-dasharray="2.2,2.05"/>
<path d="M495.5,718.2 L515.0,734.6 L542.6,749.7 L568.9,764.2 L595.3,776.7 L621.6,788.6 L647.9,801.7 L672.9,808.3 L680.0,806.3 L696.4,801.7 L708.9,789.2 L726.1,762.2 L743.2,773.4 L778.7,799.7 L801.1,816.8 L807.6,815.5 L820.8,821.4 L826.7,819.5 L826.7,769.5 L814.2,748.4 L808.9,731.3 L802.4,711.6 L790.5,693.4 L774.7,667.1 L764.2,650.0 L753.7,632.9 L741.8,613.2 L724.7,587.5" fill="none" stroke="#5ba7f7" stroke-width="2.1" stroke-linejoin="round" stroke-linecap="butt" stroke-dasharray="7.8,2.8"/>
<path d="M495.3,697.4 L505.8,705.0 L542.6,723.4 L582.1,745.1 L608.4,760.3 L647.9,782.0 L675.5,799.1 L680.0,799.7 L686.6,801.7 L696.4,807.6 L723.4,789.2 L742.5,780.7 L764.2,793.2 L778.7,797.8 L791.8,793.8 L799.1,780.7 L807.0,773.4 L807.0,755.0 L803.7,739.2 L799.1,733.9 L793.2,711.6 L790.5,703.9 L778.7,688.2 L765.5,646.1 L758.9,641.4 L753.7,629.6 L741.8,614.5 L735.3,594.7 L730.7,578.9" fill="none" stroke="#f59132" stroke-width="3.5" stroke-linejoin="round" stroke-linecap="butt"/>
</g>
<rect x="886.4" y="875.2" width="178.2" height="135.3" fill="#fff"/>
<path d="M897.4,885.6 H926.0" stroke="#a9d3fb" stroke-width="1.6" fill="none" stroke-dasharray="7.8,2.8"/>
<text class="lg" font-size="21.5" x="934.7" y="893.2" textLength="50.0" lengthAdjust="spacingAndGlyphs">NA62</text>
<path d="M897.4,908.3 H926.0" stroke="#4ea64b" stroke-width="2.0" fill="none" stroke-dasharray="7.8,2.8"/>
<text class="lg" font-size="21.5" x="934.7" y="915.9" textLength="81.6" lengthAdjust="spacingAndGlyphs">B factory</text>
<path d="M897.4,930.9 H926.0" stroke="#f5a3a3" stroke-width="1.7" fill="none" stroke-dasharray="7.8,2.8"/>
<text class="lg" font-size="21.5" x="934.7" y="938.5" textLength="45.0" lengthAdjust="spacingAndGlyphs">SHiP</text>
<path d="M897.4,953.5 H926.0" stroke="#f58e8e" stroke-width="1.4" fill="none" stroke-dasharray="2.2,2.05"/>
<text class="lg" font-size="21.5" x="934.7" y="959.4" textLength="160.5" lengthAdjust="spacingAndGlyphs">MATHUSLA(200)</text>
<path d="M897.4,975.9 H926.0" stroke="#5ba7f7" stroke-width="2.1" fill="none" stroke-dasharray="7.8,2.8"/>
<text class="lg" font-size="21.5" x="934.7" y="983.5" textLength="75.0" lengthAdjust="spacingAndGlyphs">FASER2</text>
<path d="M897.4,998.8 H926.0" stroke="#f59132" stroke-width="3.5" fill="none"/>
<text class="lg" font-size="21.5" x="934.7" y="1006.4" textLength="91.6" lengthAdjust="spacingAndGlyphs">CODEX-b</text>
<path d="M495.6,1008.3 h3.2 M1115.3,1008.3 h-3.2 M495.6,998.6 h3.2 M1115.3,998.6 h-3.2 M495.6,991.7 h3.2 M1115.3,991.7 h-3.2 M495.6,986.3 h3.2 M1115.3,986.3 h-3.2 M495.6,981.9 h3.2 M1115.3,981.9 h-3.2 M495.6,978.2 h3.2 M1115.3,978.2 h-3.2 M495.6,975.0 h3.2 M1115.3,975.0 h-3.2 M495.6,972.2 h3.2 M1115.3,972.2 h-3.2 M495.6,969.7 h6.3 M1115.3,969.7 h-6.3 M495.6,953.0 h3.2 M1115.3,953.0 h-3.2 M495.6,943.3 h3.2 M1115.3,943.3 h-3.2 M495.6,936.3 h3.2 M1115.3,936.3 h-3.2 M495.6,931.0 h3.2 M1115.3,931.0 h-3.2 M495.6,926.6 h3.2 M1115.3,926.6 h-3.2 M495.6,922.9 h3.2 M1115.3,922.9 h-3.2 M495.6,919.7 h3.2 M1115.3,919.7 h-3.2 M495.6,916.9 h3.2 M1115.3,916.9 h-3.2 M495.6,914.3 h6.3 M1115.3,914.3 h-6.3 M495.6,897.7 h3.2 M1115.3,897.7 h-3.2 M495.6,887.9 h3.2 M1115.3,887.9 h-3.2 M495.6,881.0 h3.2 M1115.3,881.0 h-3.2 M495.6,875.6 h3.2 M1115.3,875.6 h-3.2 M495.6,871.3 h3.2 M1115.3,871.3 h-3.2 M495.6,867.6 h3.2 M1115.3,867.6 h-3.2 M495.6,864.4 h3.2 M1115.3,864.4 h-3.2 M495.6,861.5 h3.2 M1115.3,861.5 h-3.2 M495.6,859.0 h6.3 M1115.3,859.0 h-6.3 M495.6,842.3 h3.2 M1115.3,842.3 h-3.2 M495.6,832.6 h3.2 M1115.3,832.6 h-3.2 M495.6,825.7 h3.2 M1115.3,825.7 h-3.2 M495.6,820.3 h3.2 M1115.3,820.3 h-3.2 M495.6,815.9 h3.2 M1115.3,815.9 h-3.2 M495.6,812.2 h3.2 M1115.3,812.2 h-3.2 M495.6,809.0 h3.2 M1115.3,809.0 h-3.2 M495.6,806.2 h3.2 M1115.3,806.2 h-3.2 M495.6,803.6 h6.3 M1115.3,803.6 h-6.3 M495.6,787.0 h3.2 M1115.3,787.0 h-3.2 M495.6,777.2 h3.2 M1115.3,777.2 h-3.2 M495.6,770.3 h3.2 M1115.3,770.3 h-3.2 M495.6,765.0 h3.2 M1115.3,765.0 h-3.2 M495.6,760.6 h3.2 M1115.3,760.6 h-3.2 M495.6,756.9 h3.2 M1115.3,756.9 h-3.2 M495.6,753.7 h3.2 M1115.3,753.7 h-3.2 M495.6,750.8 h3.2 M1115.3,750.8 h-3.2 M495.6,748.3 h6.3 M1115.3,748.3 h-6.3 M495.6,731.7 h3.2 M1115.3,731.7 h-3.2 M495.6,721.9 h3.2 M1115.3,721.9 h-3.2 M495.6,715.0 h3.2 M1115.3,715.0 h-3.2 M495.6,709.6 h3.2 M1115.3,709.6 h-3.2 M495.6,705.3 h3.2 M1115.3,705.3 h-3.2 M495.6,701.5 h3.2 M1115.3,701.5 h-3.2 M495.6,698.3 h3.2 M1115.3,698.3 h-3.2 M495.6,695.5 h3.2 M1115.3,695.5 h-3.2 M495.6,693.0 h6.3 M1115.3,693.0 h-6.3 M495.6,676.3 h3.2 M1115.3,676.3 h-3.2 M495.6,666.6 h3.2 M1115.3,666.6 h-3.2 M495.6,659.7 h3.2 M1115.3,659.7 h-3.2 M495.6,654.3 h3.2 M1115.3,654.3 h-3.2 M495.6,649.9 h3.2 M1115.3,649.9 h-3.2 M495.6,646.2 h3.2 M1115.3,646.2 h-3.2 M495.6,643.0 h3.2 M1115.3,643.0 h-3.2 M495.6,640.2 h3.2 M1115.3,640.2 h-3.2 M495.6,637.6 h6.3 M1115.3,637.6 h-6.3 M495.6,621.0 h3.2 M1115.3,621.0 h-3.2 M495.6,611.2 h3.2 M1115.3,611.2 h-3.2 M495.6,604.3 h3.2 M1115.3,604.3 h-3.2 M495.6,599.0 h3.2 M1115.3,599.0 h-3.2 M495.6,594.6 h3.2 M1115.3,594.6 h-3.2 M495.6,590.9 h3.2 M1115.3,590.9 h-3.2 M495.6,587.7 h3.2 M1115.3,587.7 h-3.2 M495.6,584.8 h3.2 M1115.3,584.8 h-3.2" fill="none" stroke="#4a4a4a" stroke-width="1.1"/>
<path d="M676.3,1025.0 v-6.3 M676.3,582.3 v6.3 M934.7,1025.0 v-6.3 M934.7,582.3 v6.3" fill="none" stroke="#3a3a3a" stroke-width="1.5"/>
<path d="M541.2,1025.0 v-3.2 M541.2,582.3 v3.2 M573.5,1025.0 v-3.2 M573.5,582.3 v3.2 M598.5,1025.0 v-3.2 M598.5,582.3 v3.2 M619.0,1025.0 v-3.2 M619.0,582.3 v3.2 M636.3,1025.0 v-3.2 M636.3,582.3 v3.2 M651.3,1025.0 v-3.2 M651.3,582.3 v3.2 M664.5,1025.0 v-3.2 M664.5,582.3 v3.2 M754.1,1025.0 v-3.2 M754.1,582.3 v3.2 M799.6,1025.0 v-3.2 M799.6,582.3 v3.2 M831.9,1025.0 v-3.2 M831.9,582.3 v3.2 M856.9,1025.0 v-3.2 M856.9,582.3 v3.2 M877.4,1025.0 v-3.2 M877.4,582.3 v3.2 M894.7,1025.0 v-3.2 M894.7,582.3 v3.2 M909.7,1025.0 v-3.2 M909.7,582.3 v3.2 M922.9,1025.0 v-3.2 M922.9,582.3 v3.2 M1012.5,1025.0 v-3.2 M1012.5,582.3 v3.2 M1058.0,1025.0 v-3.2 M1058.0,582.3 v3.2 M1090.3,1025.0 v-3.2 M1090.3,582.3 v3.2" fill="none" stroke="#4a4a4a" stroke-width="1.1"/>
<rect x="495.6" y="582.3" width="619.7" height="442.7" fill="none" stroke="#565656" stroke-width="1.9"/>
<text text-anchor="end" font-size="21.2" x="464.0" y="591.8">10</text>
<text font-size="15.4" x="464.9" y="584.5" textLength="9.7" lengthAdjust="spacingAndGlyphs">−</text>
<text text-anchor="end" font-size="15.4" x="483.5" y="583.6">2</text>
<text text-anchor="end" font-size="21.2" x="464.0" y="702.5">10</text>
<text font-size="15.4" x="464.9" y="695.1" textLength="9.7" lengthAdjust="spacingAndGlyphs">−</text>
<text text-anchor="end" font-size="15.4" x="483.5" y="694.3">4</text>
<text text-anchor="end" font-size="21.2" x="464.0" y="813.2">10</text>
<text font-size="15.4" x="464.9" y="805.8" textLength="9.7" lengthAdjust="spacingAndGlyphs">−</text>
<text text-anchor="end" font-size="15.4" x="483.5" y="804.9">6</text>
<text text-anchor="end" font-size="21.2" x="464.0" y="923.9">10</text>
<text font-size="15.4" x="464.9" y="916.5" textLength="9.7" lengthAdjust="spacingAndGlyphs">−</text>
<text text-anchor="end" font-size="15.4" x="483.5" y="915.6">8</text>
<text text-anchor="end" font-size="21.2" x="456.3" y="1034.5">10</text>
<text font-size="15.4" x="457.2" y="1027.2" textLength="9.7" lengthAdjust="spacingAndGlyphs">−</text>
<text text-anchor="end" font-size="15.4" x="483.5" y="1026.3">10</text>
<text text-anchor="middle" font-size="21.2" x="495.4" y="1053.1">0.2</text>
<text text-anchor="middle" font-size="21.2" x="676.0" y="1053.1">1</text>
<text text-anchor="middle" font-size="21.2" x="934.4" y="1053.1">10</text>
<text class="it" font-size="21.6" x="771.6" y="1076.4" textLength="17.3" lengthAdjust="spacingAndGlyphs">m</text>
<text class="it" font-size="15.7" x="790.7" y="1081.7" textLength="12.2" lengthAdjust="spacingAndGlyphs">N</text>
<text font-size="23.2" x="811.4" y="1076.1" textLength="45.9" lengthAdjust="spacingAndGlyphs">[GeV]</text>
<g transform="translate(425.8,830.3) rotate(-90)">
<text font-size="23.2" x="-2.3" y="-1.2">|</text>
<text class="it" font-size="21.6" x="3.1" y="-1.2" textLength="14.6" lengthAdjust="spacingAndGlyphs">U</text>
<text class="it" font-size="15.7" x="16.5" y="4.5">τ</text>
<text class="it" font-size="15.7" x="27.2" y="4.5" textLength="12.2" lengthAdjust="spacingAndGlyphs">N</text>
<text font-size="23.2" x="40.9" y="-1.2">|</text>
<text font-size="15.4" x="46.5" y="-7.7">2</text>
</g>
</g>
</svg>
</body>
</html>
